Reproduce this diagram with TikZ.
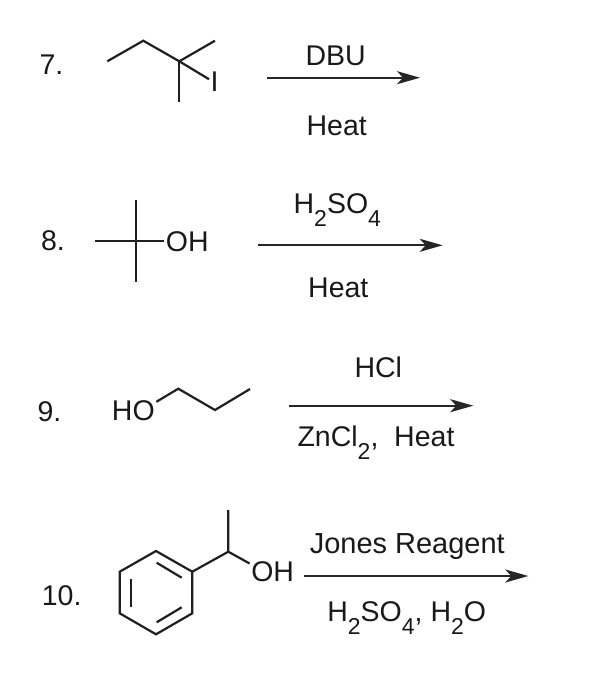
\documentclass[tikz,border=0pt]{standalone}
\usepackage{fontspec}
\setmainfont{Liberation Sans}
\usetikzlibrary{arrows.meta}
\newcommand{\subdown}[1]{\raisebox{-13pt}{\fontsize{23}{23}\selectfont #1}}
\tikzset{
  x=1pt,y=-1pt,
  txt/.style={anchor=base,inner sep=0pt,text=black!90,font=\fontsize{28.5}{30}\selectfont},
  atomlabel/.style={txt,inner sep=1.5pt},
  bond/.style={line width=2.2pt,draw=black!88,line cap=butt,line join=miter},
  rxn/.style={line width=2.1pt,draw=black!85,-{Stealth[length=23pt,width=13pt,inset=6pt]}},
  pt/.style={coordinate}
}
\begin{document}
\begin{tikzpicture}
\useasboundingbox (0,0) rectangle (607,681);
% numbers
\node[txt] (n7) at (51.5,74) {7.};
\node[txt] (n8) at (53,250.7) {8.};
\node[txt] (n9) at (49.5,421) {9.};
\node[txt] (n10) at (61.7,605) {10.};
% molecule 7
\node[atomlabel] (I) at (214.7,91.7) {I};
\coordinate (a1) at (107.3,61.3);
\coordinate (a2) at (143.3,40.7);
\coordinate (a3) at (179.3,61.3);
\coordinate (a4) at (215,40.7);
\coordinate (a5) at (179.3,102.3);
\draw[bond] (a1) -- (a2) -- (a3) -- (a4);
\draw[bond] (a3) -- (a5);
\draw[bond] (a3) -- (I.155);
% molecule 8
\node[atomlabel] (OHb) at (187.3,251.3) {OH};
\coordinate (b0) at (136.3,240.7);
\coordinate (b1) at (136.3,200);
\coordinate (b2) at (136.3,282.3);
\coordinate (b3) at (95,240.7);
\draw[bond] (b1) -- (b2);
\draw[bond] (b3) -- (b0) -- (OHb.west |- b0);
% molecule 9
\node[atomlabel] (HO) at (133.3,420) {HO};
\coordinate (c1) at (178.3,388.7);
\coordinate (c2) at (215,410);
\coordinate (c3) at (250,389);
\draw[bond] (HO.20) -- (c1) -- (c2) -- (c3);
% molecule 10
\node[atomlabel] (OHd) at (272.7,581.7) {OH};
\coordinate (r1) at (156,551);
\coordinate (r2) at (192.3,571.7);
\coordinate (r3) at (192.3,613.3);
\coordinate (r4) at (156,634.3);
\coordinate (r5) at (119.7,613.3);
\coordinate (r6) at (119.7,571.7);
\coordinate (d1) at (228.3,551.7);
\coordinate (d2) at (228.3,510);
\coordinate (i1) at (156.7,562.7);
\coordinate (i2) at (181.7,577.7);
\coordinate (i3) at (181.7,607.3);
\coordinate (i4) at (156.7,622.3);
\coordinate (i5) at (130.7,606.7);
\coordinate (i6) at (130.7,579);
\draw[bond] (r1) -- (r2) -- (r3) -- (r4) -- (r5) -- (r6) -- cycle;
\draw[bond] (i1) -- (i2);
\draw[bond] (i3) -- (i4);
\draw[bond] (i5) -- (i6);
\draw[bond] (r2) -- (d1) -- (d2);
\draw[bond] (d1) -- (OHd.160);
% arrows
\coordinate (s7) at (266.7,77.7);
\coordinate (e7) at (420,77.7);
\coordinate (s8) at (258.3,245.3);
\coordinate (e8) at (442.7,245.3);
\coordinate (s9) at (289.3,405.7);
\coordinate (e9) at (473.3,405.7);
\coordinate (s10) at (304.3,576);
\coordinate (e10) at (528.3,576);
\draw[rxn] (s7) -- (e7);
\draw[rxn] (s8) -- (e8);
\draw[rxn] (s9) -- (e9);
\draw[rxn] (s10) -- (e10);
% reagents
\node[txt] (t7a) at (335.7,65) {DBU};
\node[txt] (t7b) at (336.7,135) {Heat};
\node[txt] (t8a) at (337.3,213.3) {H\subdown{2}SO\subdown{4}};
\node[txt] (t8b) at (338.3,297.7) {Heat};
\node[txt] (t9a) at (378.3,377.3) {HCl};
\node[txt] (t9b) at (376,446) {ZnCl\subdown{2},\ \ Heat};
\node[txt,font=\fontsize{29}{30}\selectfont] (t10a) at (407.3,553.3) {Jones Reagent};
\node[txt] (t10b) at (406.7,621.7) {H\subdown{2}SO\subdown{4}, H\subdown{2}O};
\end{tikzpicture}
\end{document}
